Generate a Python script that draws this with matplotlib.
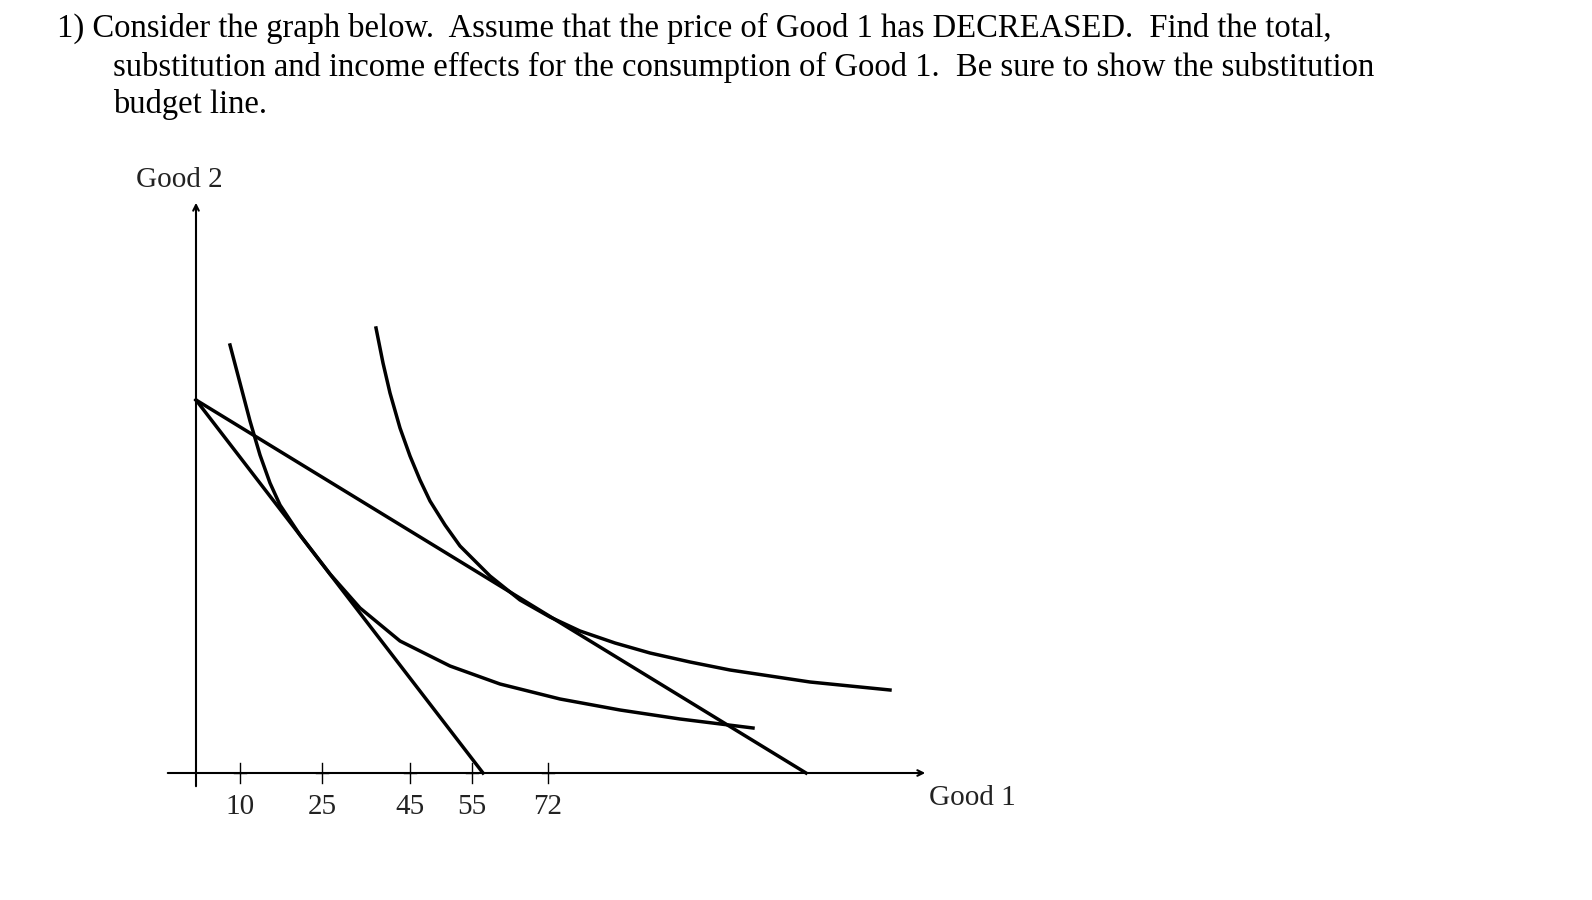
import matplotlib.pyplot as plt

# coordinates are in picture units: x to the right, height above the Good 1 axis
tick_pos = [240, 322, 410, 472, 548]
tick_labels = ["10", "25", "45", "55", "72"]

budget_old_x = [196, 483]
budget_old_h = [373, 0]
budget_new_x = [196, 806]
budget_new_h = [373, 0]

ic_low_x = [230, 240, 250, 260, 270, 280, 300, 330, 360, 400, 450, 500, 560, 620, 680, 753]
ic_low_h = [428, 390, 352, 318, 290, 268, 238, 199, 165, 132, 107, 89, 74, 63, 54, 45]
ic_high_x = [376, 383, 390, 400, 410, 420, 430, 445, 460, 490, 520, 550, 580, 615, 650, 690, 730, 810, 890]
ic_high_h = [445, 410, 380, 345, 317, 293, 272, 248, 227, 197, 173, 156, 142, 130, 120, 111, 103, 91, 83]

title_lines = [
    "1) Consider the graph below.  Assume that the price of Good 1 has DECREASED.  Find the total,",
    "substitution and income effects for the consumption of Good 1.  Be sure to show the substitution",
    "budget line.",
]

plt.rcParams['font.family'] = ['Liberation Serif', 'DejaVu Serif']
fig = plt.figure(figsize=(15.92, 9), dpi=100)
ax = fig.add_axes([0, 0, 1, 1])
ax.set_xlim(0, 1592)
ax.set_ylim(773 - 900, 773)
ax.axis('off')

# question text
ax.text(57, 773 - 28, title_lines[0], fontsize=23.5, va='center', ha='left')
ax.text(113, 773 - 67, title_lines[1], fontsize=23.5, va='center', ha='left')
ax.text(113, 773 - 104, title_lines[2], fontsize=23.5, va='center', ha='left')

# axes with arrows
ax.annotate("", xy=(196, 773 - 200), xytext=(196, -16),
            arrowprops=dict(arrowstyle='->', lw=1.5, color='black'))
ax.annotate("", xy=(928, 0), xytext=(165, 0),
            arrowprops=dict(arrowstyle='->', lw=1.5, color='black'))
ax.text(136, 773 - 180, "Good 2", fontsize=21, va='center', ha='left', color='#222')
ax.text(929, -25, "Good 1", fontsize=21, va='center', ha='left', color='#222')

for p, lab in zip(tick_pos, tick_labels):
    ax.plot([p, p], [-10, 10], color='black', lw=1)
    ax.plot([p - 6, p + 6], [0, 0], color='black', lw=1)
    ax.text(p, -34, lab, fontsize=21, ha='center', va='center', color='#222')

ax.plot(budget_old_x, budget_old_h, color='black', lw=2.5)
ax.plot(budget_new_x, budget_new_h, color='black', lw=2.5)
ax.plot(ic_low_x, ic_low_h, color='black', lw=2.5)
ax.plot(ic_high_x, ic_high_h, color='black', lw=2.5)

fig.savefig("out.png", dpi=100)
